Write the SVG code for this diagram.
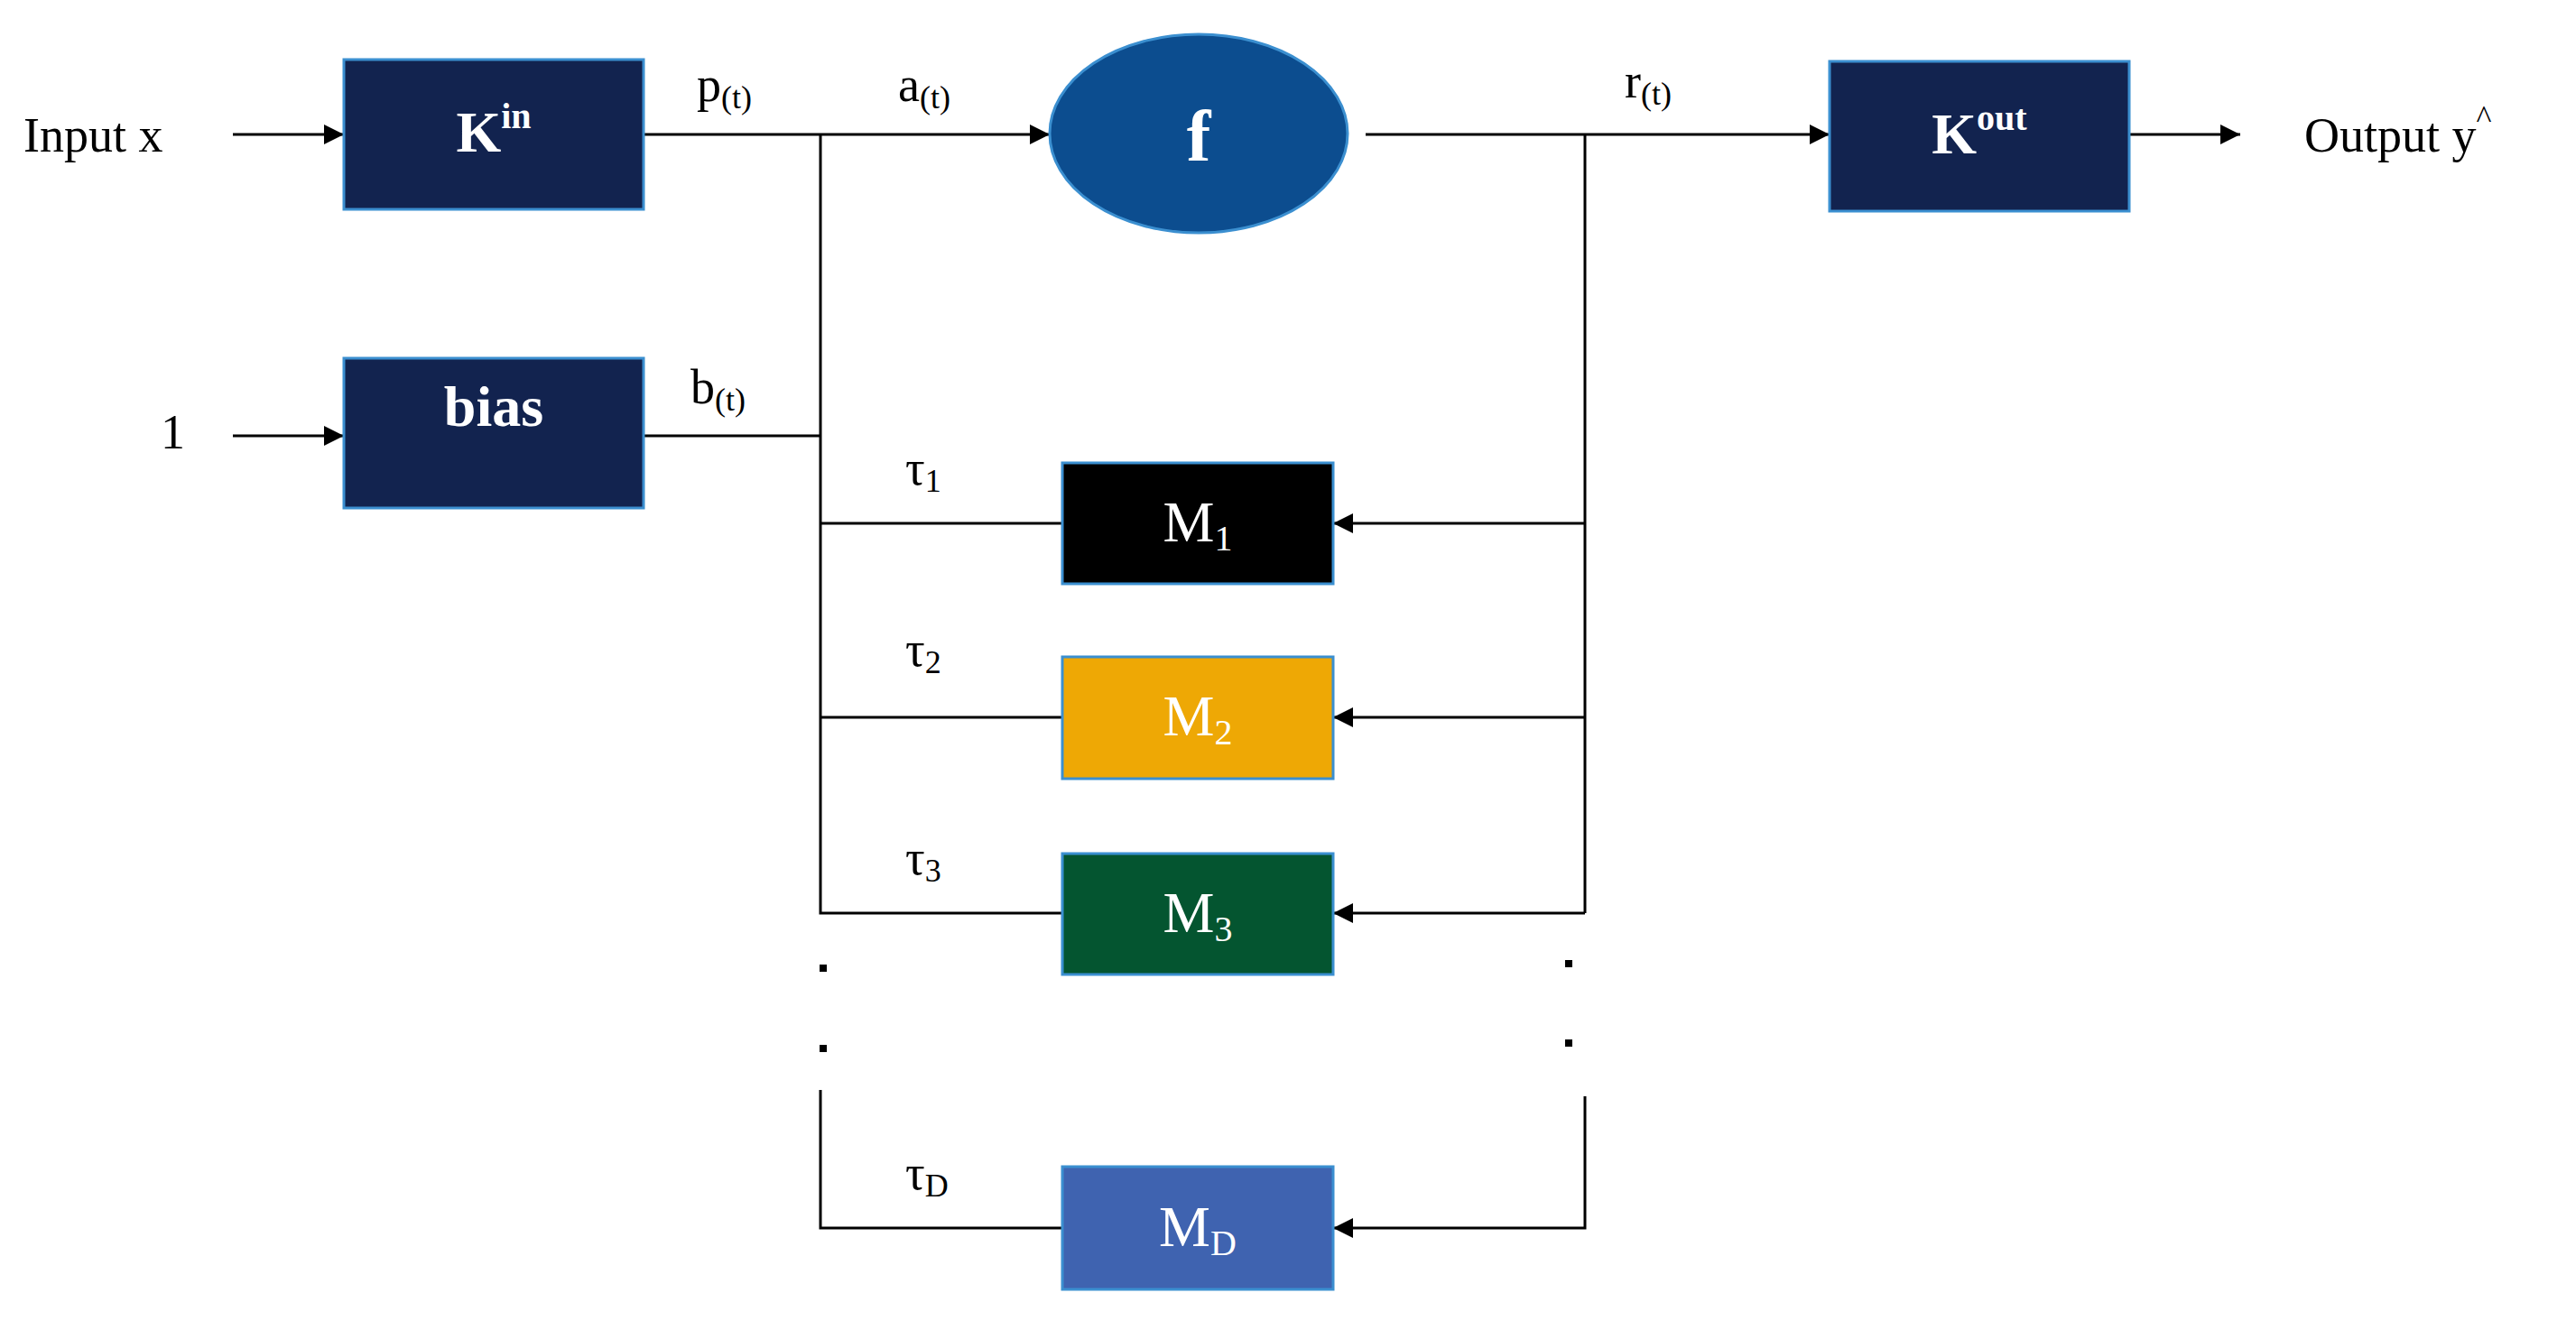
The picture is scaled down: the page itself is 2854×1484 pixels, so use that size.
<svg xmlns="http://www.w3.org/2000/svg" width="2854" height="1484" viewBox="0 0 2854 1484">
<style>
text{font-family:"Liberation Serif","Times New Roman",serif;}
.lbl{font-size:54px;fill:#000;}
.sub{font-size:36px;}
.box{stroke:#3b8fd0;stroke-width:3;}
.w{fill:#fff;}
.ln{stroke:#000;stroke-width:3;fill:none;}
.dot{fill:#000;}
</style>
<defs>
<marker id="ah" viewBox="0 0 10 10" refX="10" refY="5" markerWidth="22" markerHeight="22" markerUnits="userSpaceOnUse" orient="auto"><path d="M0,0L10,5L0,10z" fill="#000"/></marker>
</defs>
<rect width="2854" height="1484" fill="#fff"/>
<g id="connectors">
<line class="ln" x1="258" y1="149" x2="381" y2="149" marker-end="url(#ah)"/>
<line class="ln" x1="258" y1="483" x2="381" y2="483" marker-end="url(#ah)"/>
<line class="ln" x1="713" y1="149" x2="1163" y2="149" marker-end="url(#ah)"/>
<line class="ln" x1="713" y1="483" x2="909" y2="483"/>
<polyline class="ln" points="909,149 909,1012 1177,1012"/>
<line class="ln" x1="909" y1="580" x2="1177" y2="580"/>
<line class="ln" x1="909" y1="795" x2="1177" y2="795"/>
<polyline class="ln" points="909,1208 909,1361 1177,1361"/>
<line class="ln" x1="1513" y1="149" x2="2027" y2="149" marker-end="url(#ah)"/>
<line class="ln" x1="1756" y1="149" x2="1756" y2="1012"/>
<line class="ln" x1="1756" y1="580" x2="1477" y2="580" marker-end="url(#ah)"/>
<line class="ln" x1="1756" y1="795" x2="1477" y2="795" marker-end="url(#ah)"/>
<line class="ln" x1="1756" y1="1012" x2="1477" y2="1012" marker-end="url(#ah)"/>
<polyline class="ln" points="1756,1215 1756,1361 1477,1361" marker-end="url(#ah)"/>
<line class="ln" x1="2359" y1="149" x2="2482" y2="149" marker-end="url(#ah)"/>
<rect class="dot" x="908" y="1069" width="8" height="8"/>
<rect class="dot" x="908" y="1158" width="8" height="8"/>
<rect class="dot" x="1734" y="1064" width="8" height="8"/>
<rect class="dot" x="1734" y="1152" width="8" height="8"/>
</g>
<g id="labels">
<text class="lbl" x="26" y="168">Input x</text>
<text class="lbl" x="178" y="497">1</text>
<text class="lbl" x="772" y="112">p<tspan class="sub" dy="8">(t)</tspan></text>
<text class="lbl" x="995" y="112">a<tspan class="sub" dy="8">(t)</tspan></text>
<text class="lbl" x="765" y="447">b<tspan class="sub" dy="8">(t)</tspan></text>
<text class="lbl" x="1800" y="108">r<tspan class="sub" dy="8">(t)</tspan></text>
<text class="lbl" x="2553" y="168">Output y<tspan class="sub" dy="-26">^</tspan></text>
<text class="lbl" x="1003" y="537">τ<tspan class="sub" dy="8">1</tspan></text>
<text class="lbl" x="1003" y="738">τ<tspan class="sub" dy="8">2</tspan></text>
<text class="lbl" x="1003" y="969">τ<tspan class="sub" dy="8">3</tspan></text>
<text class="lbl" x="1003" y="1318">τ<tspan class="sub" dy="8">D</tspan></text>
</g>
<g id="Kin"><rect class="box" x="381" y="66" width="332" height="166" fill="#12234f"/><text class="w" x="547" y="168" font-size="64" font-weight="bold" text-anchor="middle">K<tspan font-size="40" dy="-26">in</tspan></text></g>
<g id="bias"><rect class="box" x="381" y="397" width="332" height="166" fill="#12234f"/><text class="w" x="547" y="472" font-size="64" font-weight="bold" text-anchor="middle">bias</text></g>
<g id="f"><ellipse cx="1328" cy="148" rx="165" ry="110" fill="#0c4d8f" stroke="#3b8fd0" stroke-width="3"/><text class="w" x="1328" y="178" font-size="80" font-weight="bold" text-anchor="middle">f</text></g>
<g id="Kout"><rect class="box" x="2027" y="68" width="332" height="166" fill="#12234f"/><text class="w" x="2193" y="170" font-size="64" font-weight="bold" text-anchor="middle">K<tspan font-size="40" dy="-26">out</tspan></text></g>
<g id="M1"><rect class="box" x="1177" y="513" width="300" height="134" fill="#000"/><text class="w" x="1327" y="600" font-size="64" text-anchor="middle">M<tspan font-size="40" dy="10">1</tspan></text></g>
<g id="M2"><rect class="box" x="1177" y="728" width="300" height="135" fill="#eea805"/><text class="w" x="1327" y="815" font-size="64" text-anchor="middle">M<tspan font-size="40" dy="10">2</tspan></text></g>
<g id="M3"><rect class="box" x="1177" y="946" width="300" height="134" fill="#045530"/><text class="w" x="1327" y="1033" font-size="64" text-anchor="middle">M<tspan font-size="40" dy="10">3</tspan></text></g>
<g id="MD"><rect class="box" x="1177" y="1293" width="300" height="136" fill="#3f63b0"/><text class="w" x="1327" y="1381" font-size="64" text-anchor="middle">M<tspan font-size="40" dy="10">D</tspan></text></g>
</svg>
